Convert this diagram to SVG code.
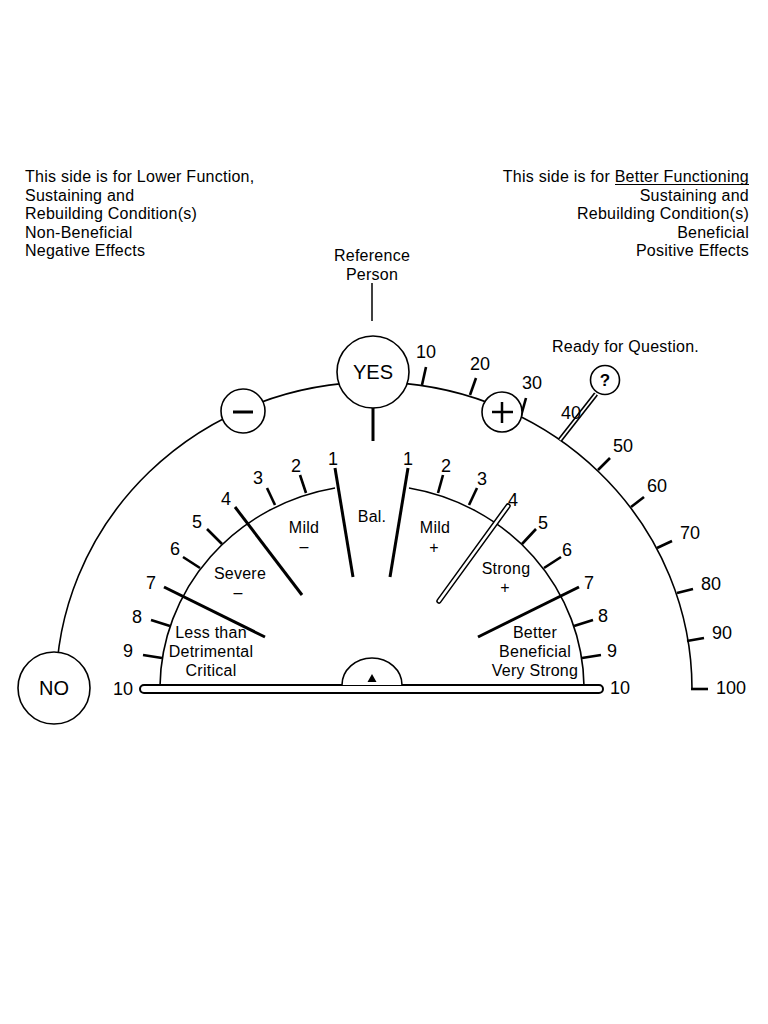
<svg xmlns="http://www.w3.org/2000/svg" width="768" height="1024" viewBox="0 0 768 1024">
<style>
text{font-family:"Liberation Sans",Arial,Helvetica,sans-serif;fill:#000}
.t{font-size:16px;letter-spacing:0.25px}
.c{text-anchor:middle}
.e{text-anchor:end}
.n{font-size:18px;text-anchor:middle}
.big{font-size:20px;text-anchor:middle}
.arc{fill:none;stroke:#000;stroke-width:1.6}
.tk{stroke:#000;stroke-width:2.6;stroke-linecap:butt}
.lg{stroke:#000;stroke-width:3;stroke-linecap:butt}
.node{fill:#fff;stroke:#000;stroke-width:1.6}
</style>
<rect width="768" height="1024" fill="#fff"/>

<g id="left-note">
<text class="t" x="25" y="182">This side is for Lower Function,</text>
<text class="t" x="25" y="200.5">Sustaining and</text>
<text class="t" x="25" y="219">Rebuilding Condition(s)</text>
<text class="t" x="25" y="237.5">Non-Beneficial</text>
<text class="t" x="25" y="256">Negative Effects</text>
</g>
<g id="right-note">
<text class="t e" x="749" y="182">This side is for Better Functioning</text>
<line x1="615" y1="184.5" x2="749" y2="184.5" stroke="#000" stroke-width="1.2"/>
<text class="t e" x="749" y="200.5">Sustaining and</text>
<text class="t e" x="749" y="219">Rebuilding Condition(s)</text>
<text class="t e" x="749" y="237.5">Beneficial</text>
<text class="t e" x="749" y="256">Positive Effects</text>
</g>

<g id="connectors">
<line x1="372" y1="283" x2="372" y2="321" stroke="#000" stroke-width="1.5"/>
<path class="arc" d="M 56 689 A 318 307 0 0 1 692 689"/>
<line x1="373" y1="405" x2="373" y2="441" stroke="#000" stroke-width="3"/>
<!-- outer ticks -->
<line class="tk" x1="422" y1="385" x2="426" y2="367"/>
<line class="tk" x1="470" y1="395" x2="476" y2="378"/>
<line class="tk" x1="521" y1="416" x2="526" y2="398"/>
<line x1="560" y1="440" x2="596" y2="394" stroke="#000" stroke-width="5"/>
<line x1="560" y1="440" x2="596" y2="394" stroke="#fff" stroke-width="1.8"/>
<line class="tk" x1="598" y1="470" x2="610" y2="458"/>
<line class="tk" x1="631" y1="507" x2="644" y2="497"/>
<line class="tk" x1="657" y1="548" x2="672" y2="541"/>
<line class="tk" x1="677" y1="593" x2="693" y2="589"/>
<line class="tk" x1="687" y1="641" x2="704" y2="638"/>
<line class="tk" x1="691" y1="689" x2="708" y2="689"/>
<!-- inner arcs -->
<path class="arc" d="M 160 686 A 212 204 0 0 1 335 488"/>
<path class="arc" d="M 409 488 A 212 204 0 0 1 584 686"/>
<!-- inner ticks left -->
<line class="lg" x1="335" y1="468" x2="353" y2="577"/>
<line class="tk" x1="300" y1="475" x2="306" y2="493"/>
<line class="tk" x1="267" y1="488" x2="275" y2="505"/>
<line class="lg" x1="235" y1="507" x2="302" y2="595"/>
<line class="tk" x1="207" y1="529" x2="222" y2="544"/>
<line class="tk" x1="183" y1="557" x2="200" y2="568"/>
<line class="lg" x1="164" y1="587" x2="265" y2="637"/>
<line class="tk" x1="151" y1="620" x2="170" y2="626"/>
<line class="tk" x1="143" y1="655" x2="162" y2="658"/>
<!-- inner ticks right -->
<line class="lg" x1="408" y1="468" x2="390" y2="577"/>
<line class="tk" x1="443" y1="475" x2="438" y2="493"/>
<line class="tk" x1="477" y1="488" x2="469" y2="505"/>
<line x1="508" y1="506" x2="439" y2="601" stroke="#000" stroke-width="5.5" stroke-linecap="round"/>
<line x1="508" y1="506" x2="439" y2="601" stroke="#fff" stroke-width="2.5" stroke-linecap="round"/>
<line class="tk" x1="536" y1="529" x2="522" y2="544"/>
<line class="tk" x1="561" y1="557" x2="544" y2="568"/>
<line class="lg" x1="579" y1="587" x2="478" y2="637"/>
<line class="tk" x1="593" y1="620" x2="574" y2="626"/>
<line class="tk" x1="601" y1="655" x2="582" y2="658"/>
</g>

<g id="base">
<rect x="140" y="685" width="463" height="8" rx="4" fill="#fff" stroke="#000" stroke-width="2"/>
<path d="M 342 685 A 30 27 0 0 1 402 685" fill="#fff" stroke="#000" stroke-width="1.6"/>
<polygon points="372,674 367.5,682 376.5,682" fill="#000"/>
</g>

<g id="reference-person">
<text class="t c" x="372" y="261">Reference</text>
<text class="t c" x="372" y="280">Person</text>
</g>
<g id="yes">
<circle class="node" cx="373" cy="372" r="36"/>
<text class="big" x="373" y="379">YES</text>
</g>
<g id="no">
<circle class="node" cx="54" cy="688" r="36"/>
<text class="big" x="54" y="695">NO</text>
</g>
<g id="minus">
<circle class="node" cx="243" cy="411" r="22"/>
<line x1="233" y1="412" x2="253" y2="412" stroke="#000" stroke-width="3"/>
</g>
<g id="plus">
<circle class="node" cx="502" cy="412" r="20"/>
<line x1="492" y1="412" x2="513" y2="412" stroke="#000" stroke-width="2.5"/>
<line x1="502" y1="402" x2="502" y2="423" stroke="#000" stroke-width="2.5"/>
</g>
<g id="question">
<text class="t" x="552" y="352">Ready for Question.</text>
<circle class="node" cx="605" cy="380" r="14.5"/>
<text x="605" y="386" font-size="17" font-weight="bold" text-anchor="middle">?</text>
</g>

<g id="outer-scale">
<text class="n" x="426" y="357.5">10</text>
<text class="n" x="480" y="369.5">20</text>
<text class="n" x="532" y="388.5">30</text>
<text class="n" x="571" y="418.5">40</text>
<text class="n" x="623" y="451.5">50</text>
<text class="n" x="657" y="491.5">60</text>
<text class="n" x="690" y="538.5">70</text>
<text class="n" x="711" y="589.5">80</text>
<text class="n" x="722" y="638.5">90</text>
<text class="n" x="731" y="693.5">100</text>
</g>

<g id="inner-scale-left">
<text class="n" x="333" y="464.5">1</text>
<text class="n" x="296" y="471.5">2</text>
<text class="n" x="258" y="483.5">3</text>
<text class="n" x="226" y="504.5">4</text>
<text class="n" x="197" y="527.5">5</text>
<text class="n" x="175" y="554.5">6</text>
<text class="n" x="151" y="588.5">7</text>
<text class="n" x="137" y="622.5">8</text>
<text class="n" x="128" y="656.5">9</text>
<text class="n" x="123" y="694.5">10</text>
</g>
<g id="inner-scale-right">
<text class="n" x="408" y="464.5">1</text>
<text class="n" x="446" y="471.5">2</text>
<text class="n" x="482" y="484.5">3</text>
<text class="n" x="513" y="505.5">4</text>
<text class="n" x="543" y="528.5">5</text>
<text class="n" x="567" y="555.5">6</text>
<text class="n" x="589" y="588.5">7</text>
<text class="n" x="603" y="621.5">8</text>
<text class="n" x="612" y="656.5">9</text>
<text class="n" x="620" y="693.5">10</text>
</g>

<g id="zones">
<text class="t c" x="372" y="522">Bal.</text>
<text class="t c" x="304" y="533">Mild</text>
<text class="t c" x="304" y="552">–</text>
<text class="t c" x="240" y="579">Severe</text>
<text class="t c" x="238" y="598">–</text>
<text class="t c" x="211" y="638">Less than</text>
<text class="t c" x="211" y="657">Detrimental</text>
<text class="t c" x="211" y="676">Critical</text>
<text class="t c" x="435" y="533">Mild</text>
<text class="t c" x="434" y="553">+</text>
<text class="t c" x="506" y="574">Strong</text>
<text class="t c" x="505" y="593">+</text>
<text class="t c" x="535" y="638">Better</text>
<text class="t c" x="535" y="657">Beneficial</text>
<text class="t c" x="535" y="676">Very Strong</text>
</g>
</svg>
